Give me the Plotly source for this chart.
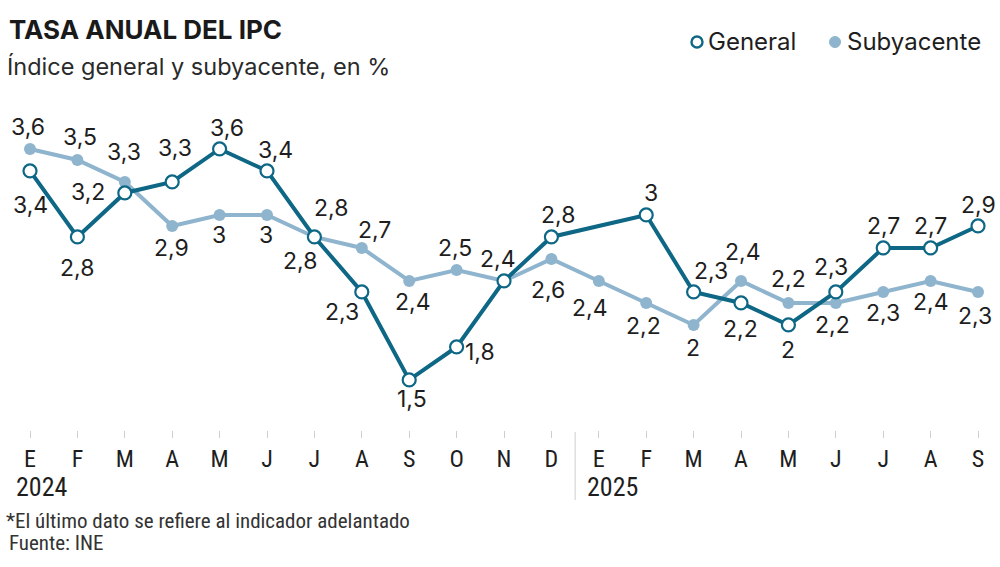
import plotly.graph_objects as go

# ---- data ----
months = ["E", "F", "M", "A", "M", "J", "J", "A", "S", "O", "N", "D",
          "E", "F", "M", "A", "M", "J", "J", "A", "S"]
years = ["2024", "2025"]
general = [3.4, 2.8, 3.2, 3.3, 3.6, 3.4, 2.8, 2.3, 1.5, 1.8, 2.4, 2.8,
           None, 3.0, 2.3, 2.2, 2.0, 2.3, 2.7, 2.7, 2.9]
subyacente = [3.6, 3.5, 3.3, 2.9, 3.0, 3.0, 2.8, 2.7, 2.4, 2.5, 2.4, 2.6,
              2.4, 2.2, 2.0, 2.4, 2.2, 2.2, 2.3, 2.4, 2.3]
series_names = ["General", "Subyacente"]

# label offsets in pixels (dx, dy, with dy positive = down); None = no label
gen_off = [(0, 34), (0, 31), (-37, -1), (3, -34), (7, -21), (8, -21), (-14, 24),
           (-20, 20), (3, 19), (23, 5), (-6, -22), (7, -22), None, (5, -22),
           (17, -21), (-1, 26), (0, 25), (-5, -25), (0, -22), (0, -22), (0, -21)]
sub_off = [(-2, -22), (3, -23), (-1, -30), (-1, 22), (-1, 20), (-1, 20), (17, -29),
           (13, -18), (4, 21), (-2, -22), None, (-3, 31), (-9, 27), (-3, 23),
           (-1, 23), (2, -29), (0, -24), (-3, 22), (0, 21), (0, 21), (-3, 24)]

C_GEN = "#0d6785"
C_SUB = "#8fb4cd"
FONT = "Inter, 'Noto Sans', sans-serif"
NARROW = "'Liberation Sans Narrow', 'Roboto Condensed', Roboto, sans-serif"

H = 567
T, B = 100, 137
PH = H - T - B


def py(px):
    """pixel row -> paper y coordinate"""
    return (H - B - px) / PH


x = list(range(len(months)))

fig = go.Figure()
fig.add_trace(go.Scatter(
    x=x, y=subyacente, mode="lines+markers", name=series_names[1],
    line=dict(color=C_SUB, width=4), connectgaps=True,
    marker=dict(size=12, color=C_SUB), showlegend=False))
fig.add_trace(go.Scatter(
    x=x, y=general, mode="lines+markers", name=series_names[0],
    line=dict(color=C_GEN, width=4), connectgaps=True,
    marker=dict(size=13, color="white", line=dict(color=C_GEN, width=2.2)),
    showlegend=False))


def fmt(v):
    s = ("%.1f" % v).rstrip("0").rstrip(".")
    return s.replace(".", ",")


for series, offs in ((general, gen_off), (subyacente, sub_off)):
    for i, (v, o) in enumerate(zip(series, offs)):
        if v is None or o is None:
            continue
        fig.add_annotation(x=i, y=v, xref="x", yref="y", text=fmt(v),
                           showarrow=False, xshift=o[0], yshift=-o[1],
                           font=dict(family=FONT, size=23, color="#1e1e1e"))

# year labels
fig.add_annotation(x=14 / 1000, y=py(487), xref="paper", yref="paper", text=years[0],
                   xanchor="left", yanchor="middle", showarrow=False,
                   font=dict(family=NARROW, size=26, color="#1e1e1e"))
fig.add_annotation(x=585 / 1000, y=py(487), xref="paper", yref="paper", text=years[1],
                   xanchor="left", yanchor="middle", showarrow=False,
                   font=dict(family=NARROW, size=26, color="#1e1e1e"))
fig.add_shape(type="line", x0=11.5, x1=11.5, xref="x", yref="paper", y0=py(432), y1=py(500),
              line=dict(color="#cfcfcf", width=1))

# manual legend
fig.add_shape(type="circle", xref="paper", yref="paper", xsizemode="pixel", ysizemode="pixel",
              xanchor=697 / 1000, yanchor=py(42), x0=-5.5, x1=5.5, y0=-5.5, y1=5.5,
              fillcolor="white", line=dict(color=C_GEN, width=2.4))
fig.add_shape(type="circle", xref="paper", yref="paper", xsizemode="pixel", ysizemode="pixel",
              xanchor=835 / 1000, yanchor=py(42), x0=-5.5, x1=5.5, y0=-5.5, y1=5.5,
              fillcolor=C_SUB, line=dict(color=C_SUB, width=1))
fig.add_annotation(x=706 / 1000, y=py(42), xref="paper", yref="paper",
                   text=series_names[0], showarrow=False, xanchor="left", yanchor="middle",
                   font=dict(family=FONT, size=24, color="#1e1e1e"))
fig.add_annotation(x=845 / 1000, y=py(42), xref="paper", yref="paper",
                   text=series_names[1], showarrow=False, xanchor="left", yanchor="middle",
                   font=dict(family=FONT, size=24, color="#1e1e1e"))

# titles / notes
fig.add_annotation(x=0.007, y=py(30), xref="paper", yref="paper",
                   text="<b>TASA ANUAL DEL IPC</b>", showarrow=False,
                   xanchor="left", yanchor="middle",
                   font=dict(family=FONT, size=26, color="#1a1a1a"))
fig.add_annotation(x=0.005, y=py(66), xref="paper", yref="paper",
                   text="Índice general y subyacente, en %", showarrow=False,
                   xanchor="left", yanchor="middle",
                   font=dict(family=FONT, size=23.5, color="#2a2a2a"))
fig.add_annotation(x=0.004, y=py(521), xref="paper", yref="paper",
                   text="*El último dato se refiere al indicador adelantado", showarrow=False,
                   xanchor="left", yanchor="middle",
                   font=dict(family=NARROW, size=21, color="#333333"))
fig.add_annotation(x=0.007, y=py(543), xref="paper", yref="paper",
                   text="Fuente: INE", showarrow=False,
                   xanchor="left", yanchor="middle",
                   font=dict(family=NARROW, size=21, color="#333333"))

fig.update_layout(
    width=1000, height=H,
    margin=dict(l=0, r=0, t=T, b=B),
    paper_bgcolor="white", plot_bgcolor="white",
    showlegend=False,
    xaxis=dict(range=[-0.633, 20.464], tickmode="array", tickvals=x, ticktext=months,
               showgrid=False, zeroline=False, showline=False,
               ticks="outside", ticklen=7, tickcolor="#cfcfcf", tickwidth=1,
               tickfont=dict(family=NARROW, size=24, color="#1e1e1e")),
    yaxis=dict(range=[1.045, 4.045], visible=False, showgrid=False),
    font=dict(family=FONT),
)

fig.write_html("out.html")
